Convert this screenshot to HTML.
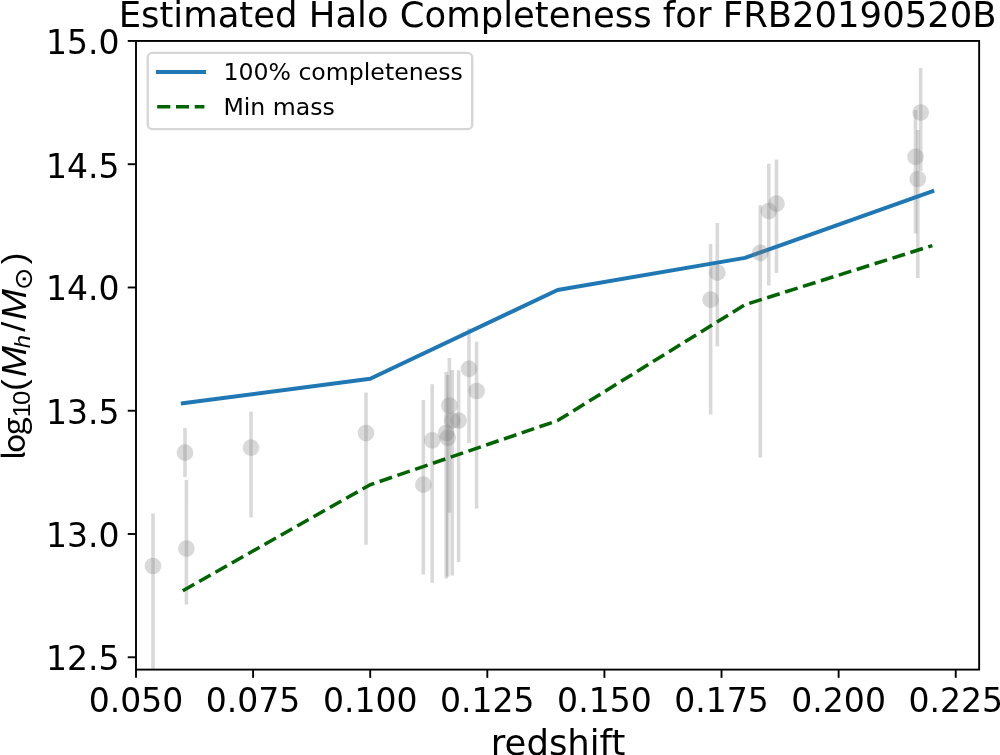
<!DOCTYPE html>
<html lang="en">
<head>
<meta charset="utf-8">
<title>Estimated Halo Completeness for FRB20190520B</title>
<style>
html,body{margin:0;padding:0;background:#fff;}
body{width:1000px;height:755px;overflow:hidden;}
svg{display:block;}
text{font-family:"DejaVu Sans", "Liberation Sans", sans-serif;fill:#000;}
.tk{font-size:33.06px;}
.lb{font-size:35.42px;}
.lg{font-size:23.61px;}
</style>
</head>
<body>
<svg width="1000" height="755" viewBox="0 0 1000 755">
<rect x="0" y="0" width="1000" height="755" fill="#ffffff"/>
<defs><clipPath id="ax"><rect x="136.00" y="40.95" width="843.15" height="628.65"/></clipPath></defs>
<g clip-path="url(#ax)">
<g stroke="#808080" stroke-opacity="0.3" stroke-width="3.60" stroke-linecap="butt" fill="none">
<line x1="153.0" y1="513.6" x2="153.0" y2="680.0"/>
<line x1="185.0" y1="428.0" x2="185.0" y2="477.0"/>
<line x1="186.4" y1="480.0" x2="186.4" y2="604.6"/>
<line x1="251.0" y1="411.6" x2="251.0" y2="517.6"/>
<line x1="366.0" y1="392.5" x2="366.0" y2="544.8"/>
<line x1="423.3" y1="400.0" x2="423.3" y2="574.5"/>
<line x1="432.2" y1="384.2" x2="432.2" y2="582.8"/>
<line x1="446.2" y1="372.0" x2="446.2" y2="578.5"/>
<line x1="447.7" y1="375.0" x2="447.7" y2="576.5"/>
<line x1="449.4" y1="358.0" x2="449.4" y2="512.8"/>
<line x1="452.2" y1="370.0" x2="452.2" y2="575.5"/>
<line x1="458.6" y1="370.2" x2="458.6" y2="562.0"/>
<line x1="469.0" y1="328.2" x2="469.0" y2="443.0"/>
<line x1="476.6" y1="341.8" x2="476.6" y2="508.6"/>
<line x1="710.6" y1="244.0" x2="710.6" y2="414.6"/>
<line x1="717.3" y1="223.0" x2="717.3" y2="346.4"/>
<line x1="760.3" y1="205.2" x2="760.3" y2="457.6"/>
<line x1="768.8" y1="163.8" x2="768.8" y2="285.6"/>
<line x1="776.5" y1="159.6" x2="776.5" y2="273.0"/>
<line x1="915.5" y1="110.0" x2="915.5" y2="233.5"/>
<line x1="917.8" y1="130.0" x2="917.8" y2="278.0"/>
<line x1="920.7" y1="68.0" x2="920.7" y2="171.0"/>
</g>
<polyline points="182.84,403.35 370.21,378.70 557.58,289.94 744.94,257.90 932.31,191.33" fill="none" stroke="#1f77b4" stroke-width="4.00" stroke-linecap="square" stroke-linejoin="round"/>
<polyline points="182.84,590.71 370.21,484.70 557.58,420.61 744.94,304.74 932.31,245.57" fill="none" stroke="#006400" stroke-width="3.55" stroke-linecap="butt" stroke-linejoin="round" stroke-dasharray="13.1 5.67"/>
<g fill="#808080" fill-opacity="0.3" stroke="none">
<circle cx="153.0" cy="566.0" r="8.35"/>
<circle cx="185.0" cy="452.6" r="8.35"/>
<circle cx="186.4" cy="548.6" r="8.35"/>
<circle cx="251.0" cy="447.6" r="8.35"/>
<circle cx="366.0" cy="433.0" r="8.35"/>
<circle cx="423.3" cy="484.7" r="8.35"/>
<circle cx="432.2" cy="440.3" r="8.35"/>
<circle cx="446.2" cy="433.0" r="8.35"/>
<circle cx="447.7" cy="437.8" r="8.35"/>
<circle cx="449.4" cy="405.5" r="8.35"/>
<circle cx="452.2" cy="420.5" r="8.35"/>
<circle cx="458.6" cy="420.5" r="8.35"/>
<circle cx="469.0" cy="368.8" r="8.35"/>
<circle cx="476.6" cy="391.0" r="8.35"/>
<circle cx="710.6" cy="299.6" r="8.35"/>
<circle cx="717.3" cy="272.6" r="8.35"/>
<circle cx="760.3" cy="252.8" r="8.35"/>
<circle cx="768.8" cy="211.2" r="8.35"/>
<circle cx="776.5" cy="203.6" r="8.35"/>
<circle cx="915.5" cy="156.8" r="8.35"/>
<circle cx="917.8" cy="179.0" r="8.35"/>
<circle cx="920.7" cy="112.5" r="8.35"/>
</g>
</g>
<g stroke="#000" stroke-width="1.89" stroke-linecap="butt">
<line x1="136.00" y1="669.60" x2="136.00" y2="677.86"/>
<line x1="253.10" y1="669.60" x2="253.10" y2="677.86"/>
<line x1="370.21" y1="669.60" x2="370.21" y2="677.86"/>
<line x1="487.31" y1="669.60" x2="487.31" y2="677.86"/>
<line x1="604.42" y1="669.60" x2="604.42" y2="677.86"/>
<line x1="721.52" y1="669.60" x2="721.52" y2="677.86"/>
<line x1="838.63" y1="669.60" x2="838.63" y2="677.86"/>
<line x1="955.73" y1="669.60" x2="955.73" y2="677.86"/>
<line x1="127.74" y1="40.95" x2="136.00" y2="40.95"/>
<line x1="127.74" y1="164.21" x2="136.00" y2="164.21"/>
<line x1="127.74" y1="287.48" x2="136.00" y2="287.48"/>
<line x1="127.74" y1="410.74" x2="136.00" y2="410.74"/>
<line x1="127.74" y1="534.01" x2="136.00" y2="534.01"/>
<line x1="127.74" y1="657.27" x2="136.00" y2="657.27"/>
</g>
<rect x="136.00" y="40.95" width="843.15" height="628.65" fill="none" stroke="#000" stroke-width="1.89" stroke-linejoin="miter"/>
<g class="tk" text-anchor="middle">
<text x="136.00" y="711.8">0.050</text>
<text x="253.10" y="711.8">0.075</text>
<text x="370.21" y="711.8">0.100</text>
<text x="487.31" y="711.8">0.125</text>
<text x="604.42" y="711.8">0.150</text>
<text x="721.52" y="711.8">0.175</text>
<text x="838.63" y="711.8">0.200</text>
<text x="955.73" y="711.8">0.225</text>
</g>
<g class="tk" text-anchor="end">
<text x="119.5" y="54.15">15.0</text>
<text x="119.5" y="177.51">14.5</text>
<text x="119.5" y="299.88">14.0</text>
<text x="119.5" y="423.64">13.5</text>
<text x="119.5" y="547.21">13.0</text>
<text x="119.5" y="670.37">12.5</text>
</g>
<text class="lb" text-anchor="middle" x="557.6" y="27.1">Estimated Halo Completeness for FRB20190520B</text>
<text class="lb" text-anchor="middle" x="558.1" y="754.5">redshift</text>
<text transform="translate(0,460.0) rotate(-90) scale(1.070,1)"><tspan x="0.09 6.65 23.01" y="25.36" font-size="30.16px" style='font-family:"Noto Sans CJK SC", "Liberation Sans", "DejaVu Sans", sans-serif'>log</tspan><tspan x="39.79 51.36" y="30.02" font-size="23.84px" style='font-family:"Liberation Sans", "DejaVu Sans", sans-serif'>10</tspan><tspan x="64.41" y="24.90" font-size="32.87px" style='font-family:"Liberation Sans", "DejaVu Sans", sans-serif'>(</tspan><tspan x="77.25" y="25.55" font-size="35.08px" style='font-family:"Liberation Sans", "DejaVu Sans", sans-serif' font-style="italic">M</tspan><tspan x="104.35" y="30.17" font-size="22.36px" style='font-family:"Liberation Sans", "DejaVu Sans", sans-serif' font-style="italic">h</tspan><tspan x="119.81" y="25.40" font-size="33.42px" style='font-family:"Liberation Sans", "DejaVu Sans", sans-serif'>/</tspan><tspan x="130.66" y="25.55" font-size="35.08px" style='font-family:"Liberation Sans", "DejaVu Sans", sans-serif' font-style="italic">M</tspan><tspan x="158.65" y="31.62" font-size="25.46px" style='font-family:"DejaVu Sans", "Liberation Sans", sans-serif'>⊙</tspan><tspan x="182.87" y="24.90" font-size="32.87px" style='font-family:"Liberation Sans", "DejaVu Sans", sans-serif'>)</tspan></text>
<rect x="147.75" y="52.9" width="324.5" height="76.2" rx="4.7" ry="4.7" fill="#ffffff" fill-opacity="0.8" stroke="#cccccc" stroke-opacity="0.8" stroke-width="2.36"/>
<line x1="158.0" y1="72.0" x2="204.0" y2="72.0" stroke="#1f77b4" stroke-width="4.00" stroke-linecap="square"/>
<line x1="157.2" y1="106.7" x2="204.4" y2="106.7" stroke="#006400" stroke-width="3.55" stroke-dasharray="13.1 5.67"/>
<text class="lg" x="223.4" y="80.1">100% completeness</text>
<text class="lg" x="223.4" y="114.8">Min mass</text>
</svg>
</body>
</html>
